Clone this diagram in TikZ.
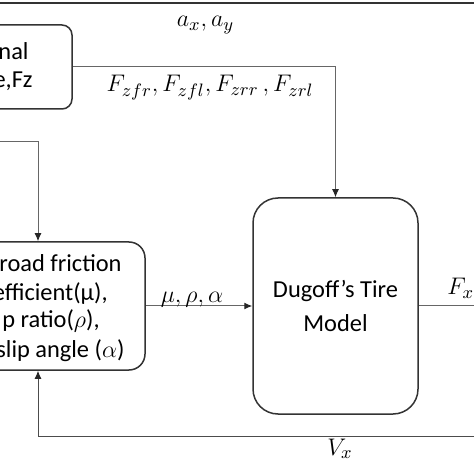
\documentclass[tikz,border=0pt]{standalone}
\usepackage{fontspec}
\setmainfont{Carlito}
\usetikzlibrary{arrows.meta}
\tikzset{
	block/.style={draw=black!80, line width=0.75pt, fill=white, inner sep=0pt},
	link/.style={line width=0.5pt, color=black!60},
	feed/.style={link, -{Latex[length=4pt,width=3.5pt,color=black!85]}},
	lbl/.style={inner sep=0pt, font=\fontsize{12.2}{14.5}\selectfont},
	sym/.style={inner sep=0pt, font=\fontsize{12.5}{14.5}\selectfont}
}

\begin{document}
\begin{tikzpicture}[x=0.5pt, y=-0.5pt]
	%%%%% START %%%%%
	\useasboundingbox (0,0) rectangle (474,474);
	\clip (0,0) rectangle (474,474);
	
	% frame line on top
	\coordinate (topL) at (0,3);
	\coordinate (topR) at (474,3);
	\draw[line width=1pt, color=black!80] (topL) -- (topR);
	
	% blocks
	\node[block, rounded corners=5pt, minimum width=81pt, minimum height=42pt] (load) at (-9,67) {};
	\node[block, rounded corners=8pt, minimum width=107pt, minimum height=64pt] (fric) at (38,306) {};
	\node[block, rounded corners=12.5pt, minimum width=82.5pt, minimum height=108pt, align=center,
		lbl] (tire) at (335.5,306) {Dugoff’s Tire\\[2.5pt]Model};
	
	% texts cut by the left edge
	\node[lbl, anchor=base east] (loadA) at (29,60) {nal};
	\node[lbl, anchor=base east] (loadB) at (33,88) {e,Fz};
	\node[lbl, anchor=base east] (fricA) at (122,272) {road friction};
	\node[lbl, anchor=base east] (fricB) at (108,300) {efficient(μ),};
	\node[lbl, anchor=base east] (fricC) at (100,328) {p ratio($\rho$),};
	\node[lbl, anchor=base east] (fricD) at (125,357) {slip angle ($\alpha$)};
	
	% connectors
	\coordinate (inL) at (0,142);
	\coordinate (outR) at (474,306);
	\coordinate (backR) at (474,436);
	\draw[feed] (load.east) -| (tire.north);
	\draw[feed] (inL) -| (fric.north);
	\draw[feed] (fric.east) -- (tire.west);
	\draw[link] (tire.east) -- (outR);
	\draw[feed, color=black!70] (backR) -| (fric.south);
	
	% signal labels
	\node[sym, anchor=base] (acc) at (205.5,27) {$a_x, a_y$};
	\node[sym, anchor=base] (fz) at (210,92) {$F_{zfr}, F_{zfl}, F_{zrr}\,, F_{zrl}$};
	\node[sym, anchor=base] (slip) at (192,302) {$\mu, \rho ,\alpha$};
	\node[sym, anchor=base west] (fx) at (447,295) {$F_x,$};
	\node[sym, anchor=base] (vx) at (340,455) {$V_x$};
	%%%%% END %%%%%
\end{tikzpicture}
\end{document}
